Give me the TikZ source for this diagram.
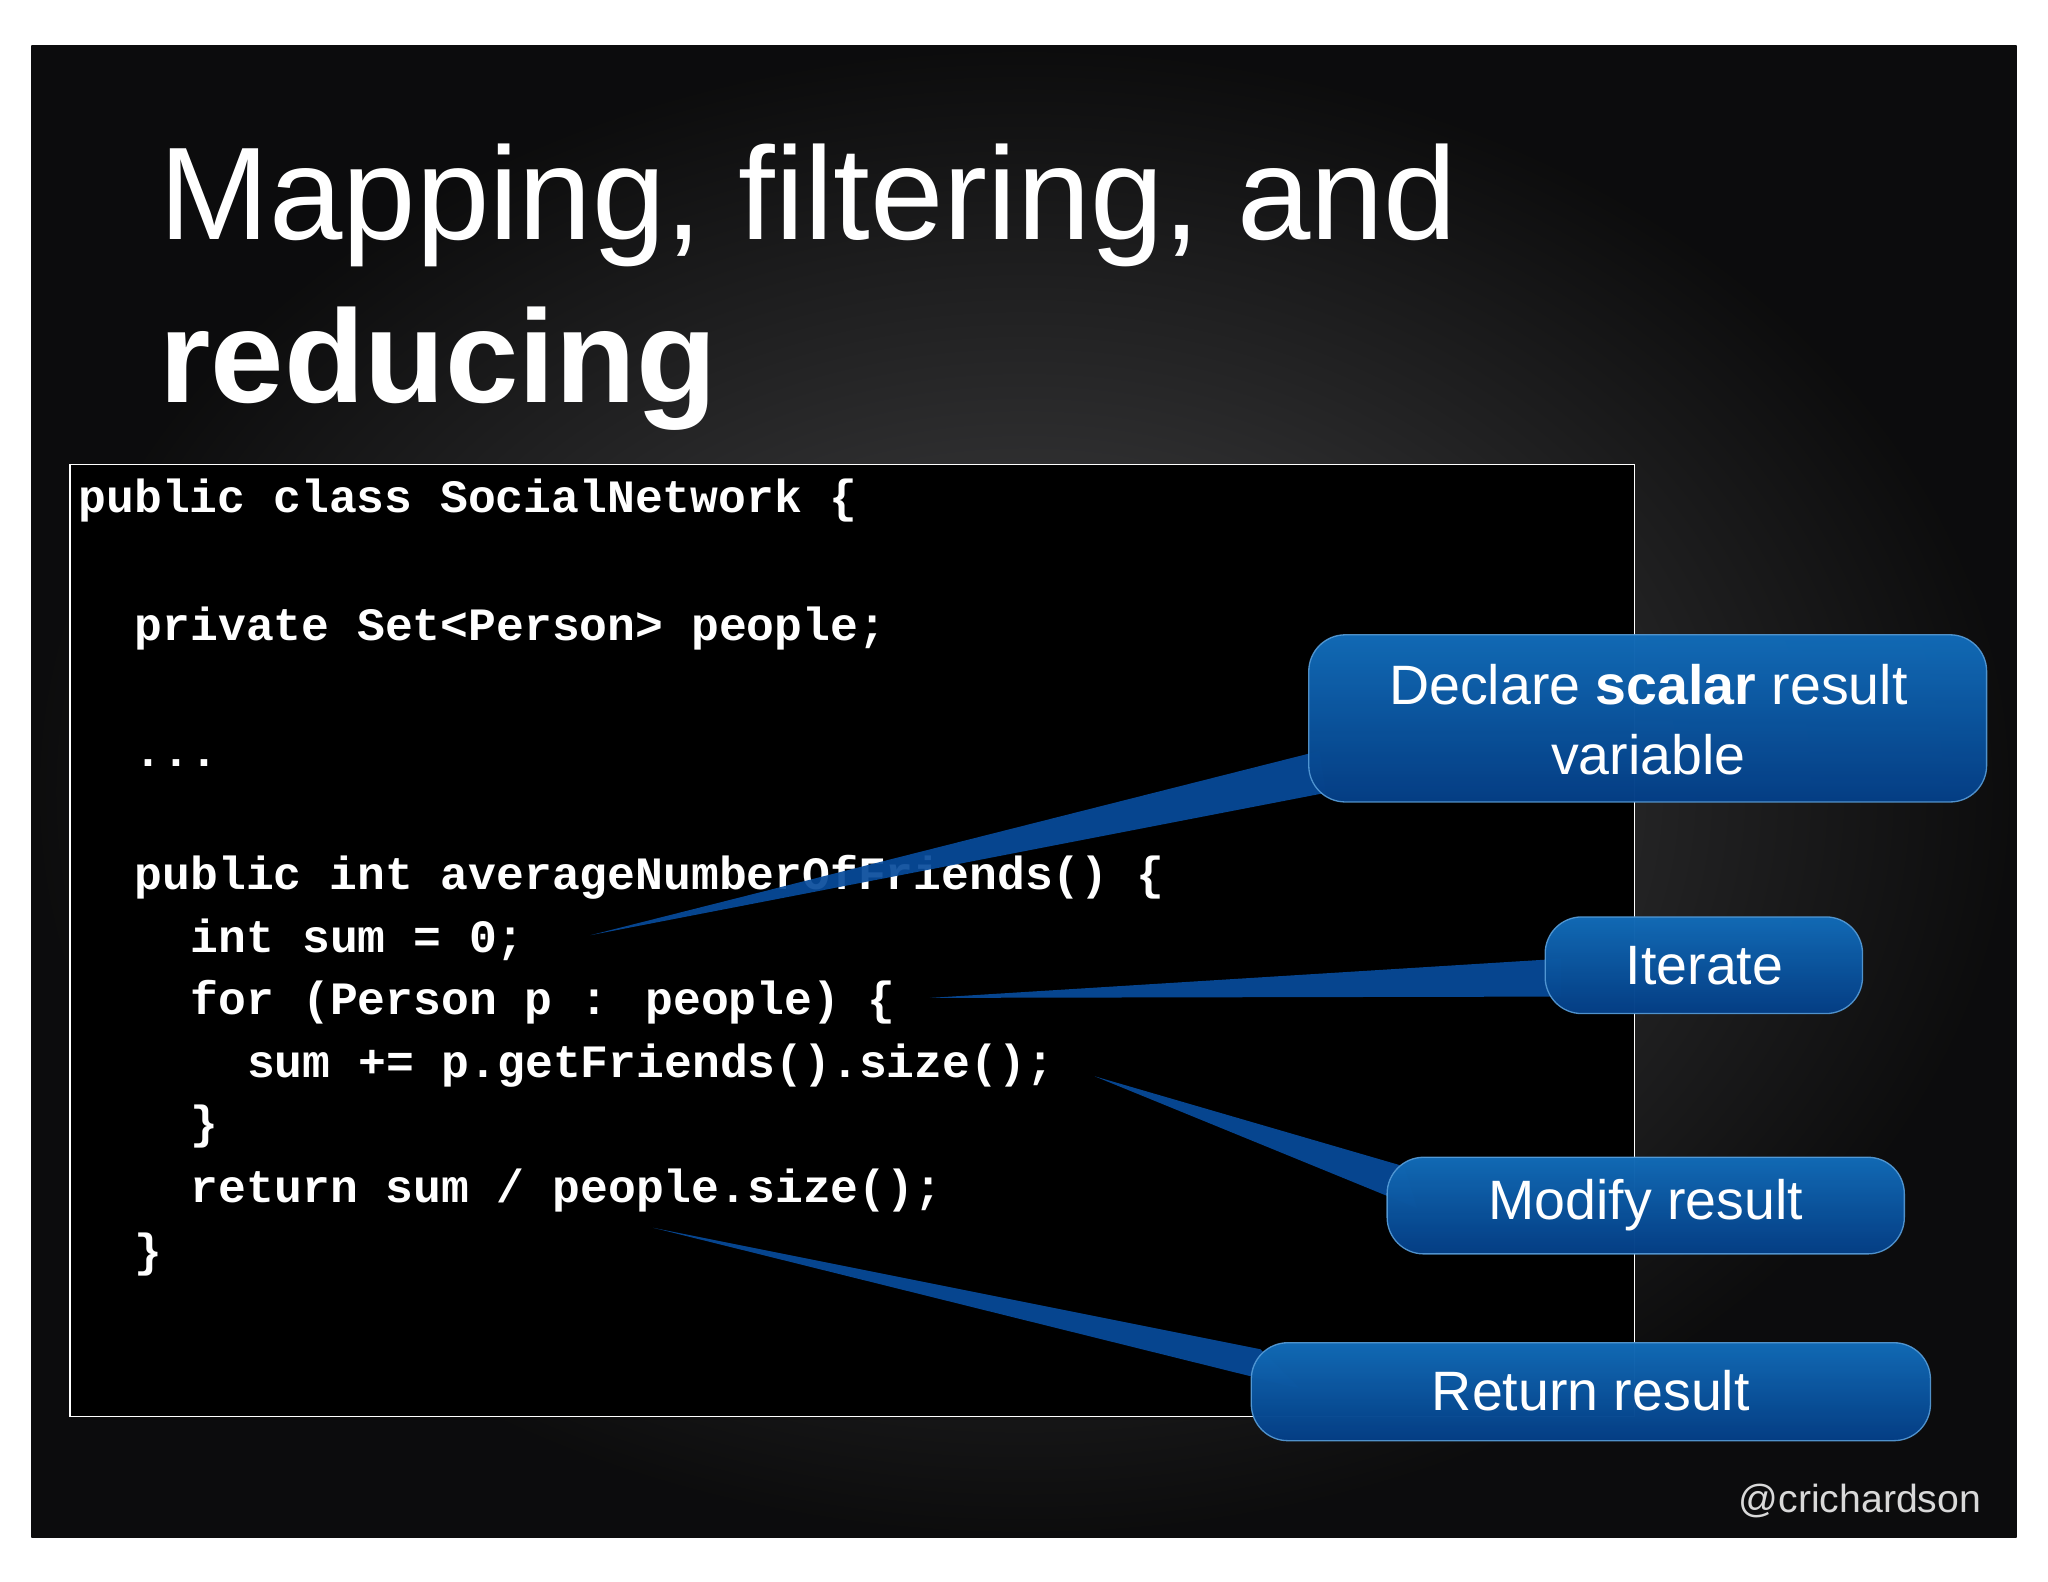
\documentclass[tikz,border=0pt]{standalone}
\usepackage{fontspec}
\setmainfont{Liberation Sans}
\newfontfamily\codefont{Liberation Mono}
\usetikzlibrary{shapes.misc}
\definecolor{cbA}{RGB}{20,120,205}
\definecolor{cbB}{RGB}{5,70,150}
\definecolor{slidebg}{RGB}{40,40,42}
\tikzset{
  codeline/.style={anchor=base west,inner sep=0,text=white,font=\codefont\bfseries\fontsize{35.5}{40}\selectfont},
  callout/.style={rounded corners=28pt,top color=cbA,bottom color=cbB,draw=cbA!70!white,line width=1pt,opacity=0.88,text opacity=1},
  ctext/.style={text=white,font=\fontsize{42.5}{54}\selectfont,align=center},
  wedge/.style={fill=cbB!90!cbA,opacity=0.92}
}
\begin{document}
\begin{tikzpicture}[x=1pt,y=-1pt]
\useasboundingbox (0,0) rectangle (1568,1211);
\fill[white] (0,0) rectangle (1568,1211);
\shade[inner color=slidebg!85!white,outer color=slidebg!30!black] (24,35) rectangle (1544,1177);
\node[anchor=base west,inner sep=0,text=white,font=\fontsize{101}{120}\selectfont] (t1) at (122,183) {Mapping, filtering, and};
\node[anchor=base west,inner sep=0,text=white,font=\bfseries\fontsize{101}{120}\selectfont] (t2) at (122,308) {reducing};
\node[draw=white,fill=black,line width=1pt,minimum width=1198pt,minimum height=729pt,anchor=north west,inner sep=0] (box) at (53,355) {};
\node[codeline] (l1) at (60,392) {public class SocialNetwork \{};
\node[codeline] (l2) at (103,490) {private Set<Person> people;};
\node[codeline] (l3) at (103,587) {...};
\node[codeline] (l4) at (103,681) {public int averageNumberOfFriends() \{};
\node[codeline] (l5) at (146,729) {int sum = 0;};
\node[codeline] (l6) at (146,777) {for (Person p : people) \{};
\node[codeline] (l7) at (189,825) {sum += p.getFriends().size();};
\node[codeline] (l8) at (146,872) {\}};
\node[codeline] (l9) at (146,921) {return sum / people.size();};
\node[codeline] (l10) at (103,970) {\}};
% wedges
\coordinate (p1) at (452,716);
\coordinate (p2) at (712,764);
\coordinate (p3) at (838,824);
\coordinate (p4) at (500,940);
\fill[wedge] (p1) -- (1010,575) -- (1015,607) -- cycle;
\fill[wedge] (p2) -- (1195,734) -- (1195,763) -- cycle;
\fill[wedge] (p3) -- (1075,893) -- (1085,925) -- cycle;
\fill[wedge] (p4) -- (965,1033) -- (995,1063) -- cycle;
% callouts
\filldraw[callout] (1002,486) rectangle (1521,614);
\node[ctext] (c1) at (1262,551) {Declare \textbf{scalar} result\\variable};
\filldraw[callout] (1183,702) rectangle (1426,776);
\node[ctext] (c2) at (1305,739) {Iterate};
\filldraw[callout] (1062,886) rectangle (1458,960);
\node[ctext] (c3) at (1260,923) {Modify result};
\filldraw[callout] (958,1028) rectangle (1478,1103);
\node[ctext] (c4) at (1218,1065) {Return result};
\node[anchor=base east,inner sep=0,text=white!85!black,font=\fontsize{30}{36}\selectfont] (cr) at (1517,1158) {@crichardson};
\end{tikzpicture}
\end{document}
